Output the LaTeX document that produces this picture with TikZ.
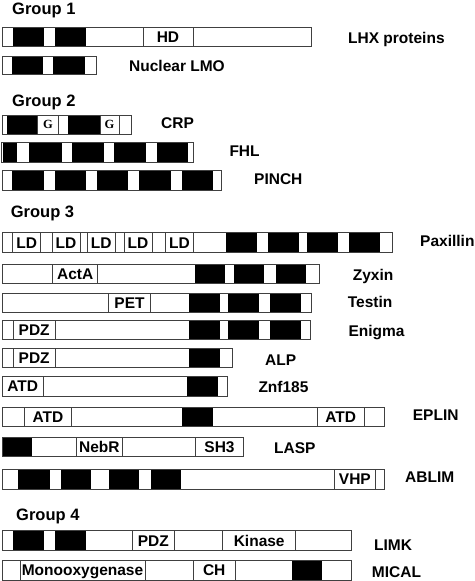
\documentclass[tikz,border=0pt]{standalone}
\usepackage{fontspec}
\setsansfont{Liberation Sans}
\newfontfamily\timesb{Liberation Serif}
\newcommand\protfont{\fontsize{15.5}{18}\selectfont\sffamily\bfseries}
\newcommand\grpfont{\fontsize{16.5}{19}\selectfont\sffamily\bfseries}
\newcommand\gfont{\fontsize{12.5}{15}\selectfont\timesb\bfseries}
\begin{document}
\begin{tikzpicture}[x=1pt,y=-1pt,
  bar/.style={draw=black!75, line width=0.8pt},
  dom/.style={draw=black!75, line width=0.8pt, fill=white, inner sep=0pt, minimum height=19.4pt, text height=11.1pt, text depth=0pt, font=\protfont},
  gbox/.style={dom, font=\gfont, text height=8.3pt},
  glab/.style={anchor=base west, inner sep=0pt, font=\grpfont},
  plab/.style={anchor=base west, inner sep=0pt, font=\protfont}]
\useasboundingbox (0,0) rectangle (474,581);
%% Group 1
\node[glab] (grp1) at (12,14) {Group 1};
\fill (12.7,27.3) rectangle (44,46.7);
\fill (55,27.3) rectangle (86,46.7);
\draw[bar] (2,27.3) rectangle (311.7,46.7);
\node[dom, minimum width=50pt] (hd) at (168,37) {HD};
\node[plab] (lhx) at (348,43.5) {LHX proteins};
%%
\fill (11.7,56) rectangle (42.7,74);
\fill (53.3,56) rectangle (85.3,74);
\draw[bar] (2,56) rectangle (96.3,74);
\node[plab] (lmo) at (129,71.5) {Nuclear LMO};
%% Group 2
\node[glab] (grp2) at (12,106) {Group 2};
\fill (7.3,115) rectangle (37.7,134.3);
\fill (68.3,115) rectangle (100,134.3);
\draw[bar] (2,115) rectangle (131,134.3);
\node[gbox, minimum width=20.6pt] (crpg1) at (48,124.7) {G};
\node[gbox, minimum width=19pt] (crpg2) at (109.5,124.7) {G};
\node[plab] (crp) at (161,128.2) {CRP};
%%
\fill (2.7,142.7) rectangle (17.3,162.7);
\fill (29.3,142.7) rectangle (61.7,162.7);
\fill (71.7,142.7) rectangle (104,162.7);
\fill (114,142.7) rectangle (145.7,162.7);
\fill (156.7,142.7) rectangle (188.3,162.7);
\draw[bar] (1.7,142.7) rectangle (193.3,162.7);
\node[plab] (fhl) at (229.3,156) {FHL};
%%
\fill (11.7,170.7) rectangle (44.3,190.7);
\fill (55,170.7) rectangle (86,190.7);
\fill (97.3,170.7) rectangle (128.3,190.7);
\fill (139.3,170.7) rectangle (170.7,190.7);
\fill (181.7,170.7) rectangle (213.3,190.7);
\draw[bar] (2,170.7) rectangle (221,190.7);
\node[plab] (pinch) at (254,184) {PINCH};
%% Group 3
\node[glab] (grp3) at (10.7,217.3) {Group 3};
\fill (226,232.3) rectangle (257.3,252.7);
\fill (268.3,232.3) rectangle (299,252.7);
\fill (306.7,232.3) rectangle (338.3,252.7);
\fill (349,232.3) rectangle (380,252.7);
\draw[bar] (2,232.3) rectangle (392.7,252.7);
\node[dom, minimum width=28pt] (ld1) at (26.7,242.5) {LD};
\node[dom, minimum width=28pt] (ld2) at (65.9,242.5) {LD};
\node[dom, minimum width=28pt] (ld3) at (101.2,242.5) {LD};
\node[dom, minimum width=28pt] (ld4) at (137.9,242.5) {LD};
\node[dom, minimum width=28pt] (ld5) at (179.5,242.5) {LD};
\node[plab] (pax) at (420,246.7) {Paxillin};
%%
\fill (195,264) rectangle (225,283.3);
\fill (234,264) rectangle (264,283.3);
\fill (276,264) rectangle (306,283.3);
\draw[bar] (2,264) rectangle (319.3,283.3);
\node[dom, minimum width=45pt] (acta) at (75.2,273.6) {ActA};
\node[plab] (zyx) at (352.7,280) {Zyxin};
%%
\fill (189,293.3) rectangle (220,312);
\fill (228.3,293.3) rectangle (259,312);
\fill (270,293.3) rectangle (300.7,312);
\draw[bar] (2,293.3) rectangle (311.7,312);
\node[dom, minimum width=42.4pt, minimum height=18.7pt] (pet) at (129.5,302.6) {PET};
\node[plab] (tes) at (347.7,307.3) {Testin};
%%
\fill (189,320.7) rectangle (220,339.3);
\fill (228.3,320.7) rectangle (259,339.3);
\fill (270,320.7) rectangle (300.7,339.3);
\draw[bar] (2,320.7) rectangle (310.7,339.3);
\node[dom, minimum width=41.7pt, minimum height=18.6pt] (pdz1) at (34.2,330) {PDZ};
\node[plab] (enig) at (348.3,336) {Enigma};
%%
\fill (189,348.3) rectangle (220,367.7);
\draw[bar] (2,348.3) rectangle (232.3,367.7);
\node[dom, minimum width=41.7pt] (pdz2) at (34.2,358) {PDZ};
\node[plab] (alp) at (265,365) {ALP};
%%
\fill (187.3,376.7) rectangle (218.3,396);
\draw[bar] (2,376.7) rectangle (227.3,396);
\node[dom, minimum width=41.3pt, minimum height=19.3pt] (atd1) at (22.65,386.35) {ATD};
\node[plab] (znf) at (258.3,392.7) {Znf185};
%%
\fill (181.7,407.3) rectangle (212.7,426.7);
\draw[bar] (2,407.3) rectangle (384.3,426.7);
\node[dom, minimum width=47.4pt] (atd2) at (48,417) {ATD};
\node[dom, minimum width=46.7pt] (atd3) at (340.7,417) {ATD};
\node[plab] (eplin) at (412.7,420.7) {EPLIN};
%%
\fill (2,437.3) rectangle (32.3,456.7);
\draw[bar] (2,437.3) rectangle (243.3,456.7);
\node[dom, minimum width=46.7pt] (nebr) at (99.4,447) {NebR};
\node[dom, minimum width=47.6pt] (sh3) at (219.5,447) {SH3};
\node[plab] (lasp) at (274,453.3) {LASP};
%%
\fill (18.3,469) rectangle (50,489);
\fill (60.7,469) rectangle (91,489);
\fill (109,469) rectangle (139.3,489);
\fill (150.7,469) rectangle (181,489);
\draw[bar] (2,469) rectangle (384.3,489);
\node[dom, minimum width=41.7pt, minimum height=20pt] (vhp) at (354.9,479) {VHP};
\node[plab] (ablim) at (405,482.7) {ABLIM};
%% Group 4
\node[glab] (grp4) at (16,520) {Group 4};
\fill (13.3,530.7) rectangle (44,550.7);
\fill (55,530.7) rectangle (86,550.7);
\draw[bar] (2,530.7) rectangle (351.7,550.7);
\node[dom, minimum width=41.3pt, minimum height=20pt] (pdz3) at (153.4,540.7) {PDZ};
\node[dom, minimum width=73pt, minimum height=20pt] (kin) at (259.2,540.7) {Kinase};
\node[plab] (limk) at (374,550) {LIMK};
%%
\fill (291.7,560.7) rectangle (322.3,580);
\draw[bar] (2,560.7) rectangle (351.7,580);
\node[dom, minimum width=125pt, minimum height=19.3pt] (mono) at (82.5,570.35) {Monooxygenase};
\node[dom, minimum width=41.7pt, minimum height=19.3pt] (ch) at (214.2,570.35) {CH};
\node[plab] (mical) at (371.7,577.3) {MICAL};
\end{tikzpicture}
\end{document}
